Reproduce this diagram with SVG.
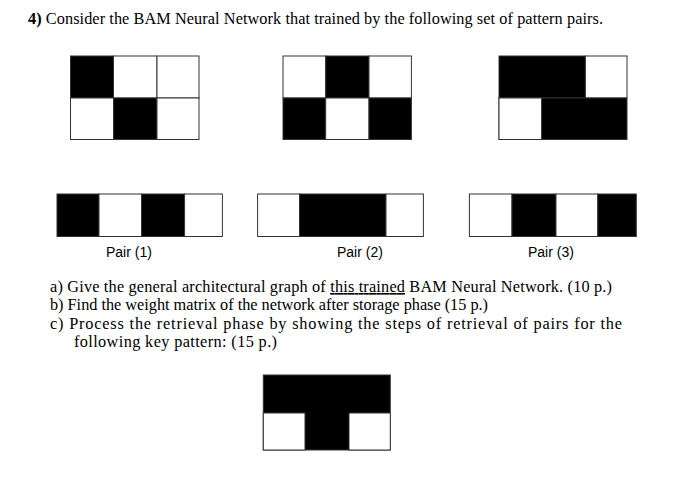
<svg xmlns="http://www.w3.org/2000/svg" width="696" height="478" viewBox="0 0 696 478">
<style>
.t{font-family:"Liberation Serif",serif;font-size:16.3px;fill:#000}
.p{font-family:"Liberation Sans",sans-serif;font-size:14px;fill:#000}
.b{fill:#000;stroke:#333;stroke-width:1}
.w{fill:#fff;stroke:#333;stroke-width:1}
</style>
<rect width="696" height="478" fill="#fff"/>
<text class="t" x="28" y="24" textLength="575" lengthAdjust="spacing"><tspan font-weight="bold">4)</tspan>  Consider the BAM Neural Network  that trained by the following set of pattern pairs.</text>
<g id="grid1">
<rect class="b" x="70.5" y="56" width="43" height="42"/><rect class="w" x="113.5" y="56" width="43.5" height="42"/><rect class="w" x="157" y="56" width="42" height="42"/>
<rect class="w" x="70.5" y="98" width="43" height="41.5"/><rect class="b" x="113.5" y="98" width="43.5" height="41.5"/><rect class="w" x="157" y="98" width="42" height="41.5"/>
</g>
<g id="grid2">
<rect class="w" x="283" y="56" width="42.7" height="42"/><rect class="b" x="325.7" y="56" width="43.3" height="42"/><rect class="w" x="369" y="56" width="42.4" height="42"/>
<rect class="b" x="283" y="98" width="42.7" height="41.5"/><rect class="w" x="325.7" y="98" width="43.3" height="41.5"/><rect class="b" x="369" y="98" width="42.4" height="41.5"/>
</g>
<g id="grid3">
<rect class="b" x="499" y="56" width="86.4" height="42"/><rect class="w" x="585.4" y="56" width="41.6" height="42"/>
<rect class="b" x="499" y="98" width="128" height="41.5"/><rect class="w" x="499" y="98" width="42.6" height="41.5"/>
</g>
<g id="bar1">
<rect class="b" x="57" y="194" width="42" height="42.5"/><rect class="w" x="99" y="194" width="42.6" height="42.5"/><rect class="b" x="141.6" y="194" width="43" height="42.5"/><rect class="w" x="184.6" y="194" width="37.8" height="42.5"/>
</g>
<g id="bar2">
<rect class="w" x="257.6" y="194" width="41.9" height="42.5"/><rect class="b" x="299.5" y="194" width="86.5" height="42.5"/><rect class="w" x="386" y="194" width="37.4" height="42.5"/>
</g>
<g id="bar3">
<rect class="w" x="469.4" y="194" width="42.6" height="42.5"/><rect class="b" x="512" y="194" width="44" height="42.5"/><rect class="w" x="556" y="194" width="41.8" height="42.5"/><rect class="b" x="597.8" y="194" width="38.5" height="42.5"/>
</g>
<text class="p" x="106" y="257">Pair (1)</text>
<text class="p" x="337" y="257">Pair (2)</text>
<text class="p" x="528" y="257">Pair (3)</text>
<text class="t" x="50" y="292" textLength="562" lengthAdjust="spacing">a)  Give the general architectural graph of <tspan text-decoration="underline">this trained</tspan> BAM Neural Network. (10 p.)</text>
<text class="t" x="50" y="310" textLength="438" lengthAdjust="spacing">b)  Find the weight matrix of the network after storage phase (15 p.)</text>
<text class="t" x="50" y="329" textLength="572" lengthAdjust="spacing">c)  Process  the  retrieval  phase  by  showing  the  steps  of  retrieval  of  pairs  for  the</text>
<text class="t" x="74" y="347" textLength="203" lengthAdjust="spacing">following key pattern: (15 p.)</text>
<g id="key">
<rect class="b" x="263.3" y="375" width="127" height="75"/>
<rect class="w" x="263.3" y="413" width="41.7" height="37"/><rect class="w" x="349" y="413" width="41.3" height="37"/>
</g>
</svg>
